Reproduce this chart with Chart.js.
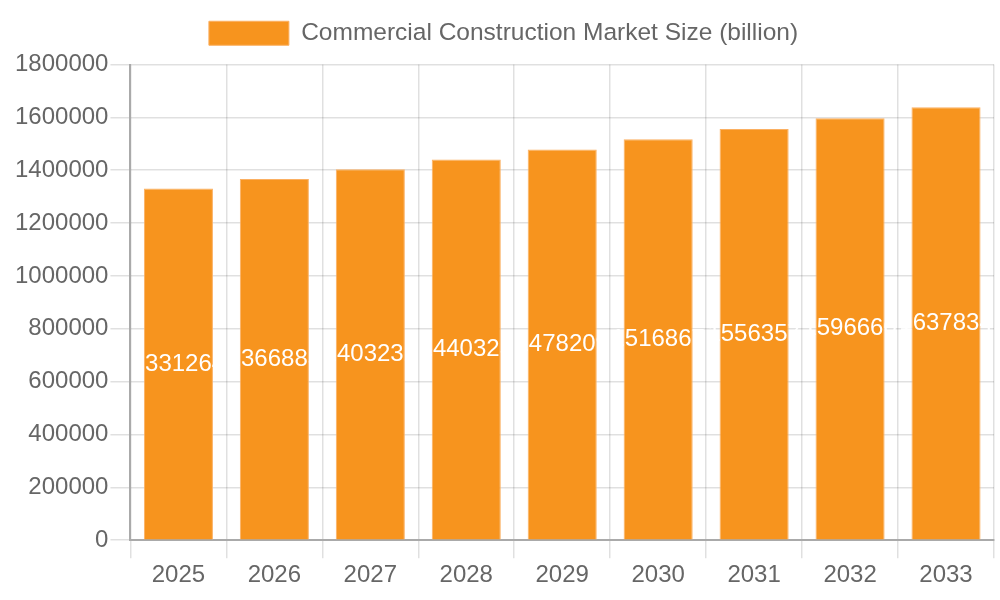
<!DOCTYPE html>
<html>
<head>
<meta charset="utf-8">
<script src="https://cdn.jsdelivr.net/npm/chart.js@4"></script>
<style>
html,body{margin:0;padding:0;background:#fff;}
#wrap{width:1000px;height:600px;}
</style>
</head>
<body>
<div id="wrap"><canvas id="c"></canvas></div>
<script>
const categories = ["2025","2026","2027","2028","2029","2030","2031","2032","2033"];
const marketSize = [1331264, 1366883, 1403232, 1440323, 1478209, 1516867, 1556357, 1596660, 1637834];
const seriesLabel = "Commercial Construction Market Size (billion)";

const barLabels = {
  id: 'barLabels',
  afterDatasetsDraw(chart) {
    const ctx = chart.ctx;
    const meta = chart.getDatasetMeta(0);
    ctx.save();
    ctx.font = '24px "Liberation Sans", Arial, sans-serif';
    ctx.fillStyle = '#ffffff';
    ctx.textAlign = 'center';
    ctx.textBaseline = 'middle';
    meta.data.forEach((bar, i) => {
      const v = chart.data.datasets[0].data[i];
      const y = (bar.y + bar.base) / 2;
      ctx.fillText(String(v), bar.x, y);
    });
    ctx.restore();
  }
};

const legendGap = {
  id: 'legendGap',
  beforeInit(chart) {
    const origFit = chart.legend.fit;
    chart.legend.fit = function () {
      origFit.bind(chart.legend)();
      this.height += 9;
    };
  }
};

Chart.defaults.font.family = '"Liberation Sans", Arial, sans-serif';
Chart.defaults.font.size = 24;
Chart.defaults.color = '#666';

new Chart(document.getElementById('c'), {
  type: 'bar',
  data: {
    labels: categories,
    datasets: [{
      label: seriesLabel,
      data: marketSize,
      backgroundColor: '#f7941e',
      borderColor: '#fbb062',
      borderWidth: 1
    }]
  },
  options: {
    responsive: true,
    maintainAspectRatio: false,
    animation: false,
    layout: { padding: { top: 11, right: 6, left: 13, bottom: 7 } },
    plugins: {
      legend: {
        labels: { boxWidth: 80, boxHeight: 24, color: '#666', font: { size: 24.5 } }
      },
      tooltip: { enabled: false }
    },
    scales: {
      x: {
        grid: { color: 'rgba(0,0,0,0.12)', tickLength: 18, lineWidth: 1.5 },
        border: { color: '#aaa', width: 2 },
        ticks: { color: '#666', font: { size: 24 } }
      },
      y: {
        min: 0, max: 1800000,
        grid: { color: 'rgba(0,0,0,0.12)', tickLength: 20, lineWidth: 1.5 },
        border: { color: '#aaa', width: 2 },
        ticks: { stepSize: 200000, color: '#666', font: { size: 24 }, padding: 2,
                 callback: (v) => String(v) }
      }
    }
  },
  plugins: [barLabels, legendGap]
});
</script>
</body>
</html>
